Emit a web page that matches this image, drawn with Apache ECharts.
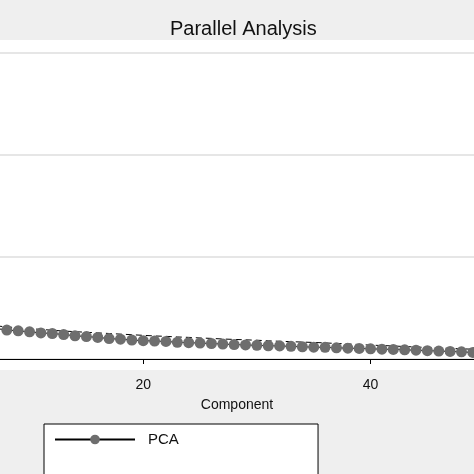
<!DOCTYPE html>
<html>
<head>
<meta charset="utf-8">
<script src="https://cdn.jsdelivr.net/npm/echarts@6/dist/echarts.min.js"></script>
<style>html,body{margin:0;padding:0;background:#efefef}#main{width:474px;height:474px}</style>
</head>
<body>
<div id="main"></div>
<script>
// components 1..50
const components = Array.from({length: 50}, (_, i) => i + 1);
const pcaValues = [8.2, 3.1, 2.4, 2.0, 1.8, 1.6, 1.5, 1.42, 1.38, 1.33,
    1.28, 1.25, 1.2, 1.14, 1.1, 1.06, 1.0, 0.97, 0.93, 0.9,
    0.88, 0.86, 0.82, 0.8, 0.78, 0.76, 0.73, 0.71, 0.69, 0.67,
    0.65, 0.64, 0.62, 0.6, 0.58, 0.57, 0.55, 0.53, 0.52, 0.5,
    0.48, 0.47, 0.45, 0.43, 0.41, 0.39, 0.37, 0.35, 0.32, 0.28];
const paValues = [2.2, 2.05, 1.95, 1.85, 1.78, 1.7, 1.63, 1.57, 1.53, 1.49,
    1.45, 1.41, 1.37, 1.34, 1.31, 1.28, 1.25, 1.22, 1.19, 1.16,
    1.13, 1.11, 1.08, 1.06, 1.03, 1.01, 0.98, 0.96, 0.94, 0.92,
    0.89, 0.87, 0.85, 0.83, 0.81, 0.79, 0.76, 0.74, 0.71, 0.68,
    0.66, 0.64, 0.61, 0.59, 0.56, 0.54, 0.52, 0.5, 0.48, 0.45];
const xTicks = [20, 40];

const chart = echarts.init(document.getElementById("main"));
const font = "Liberation Sans";
chart.setOption({
    backgroundColor: "#efefef",
    animation: false,
    title: {
        text: "Parallel Analysis",
        left: 165, top: 14,
        textStyle: {fontFamily: font, fontWeight: "normal", fontSize: 20, color: "#111"}
    },
    graphic: [{type: "rect", z: -10, shape: {x: 0, y: 40, width: 474, height: 330}, style: {fill: "#fff"}}],
    grid: {left: 0, right: 0, top: 53, bottom: 115},
    legend: {
        left: 44, top: 424,
        backgroundColor: "#fff", borderColor: "#000", borderWidth: 1,
        padding: [8, 60, 8, 10], itemGap: 36, itemWidth: 80, itemHeight: 12,
        textStyle: {fontFamily: font, fontSize: 15, color: "#111", padding: [0, 0, 0, 8]},
        data: ["PCA", "Parallel Analysis"]
    },
    xAxis: {
        type: "value", min: 7.4, max: 49.1, offset: 11,
        axisLine: {lineStyle: {color: "#000"}},
        axisTick: {length: 5, customValues: xTicks, lineStyle: {color: "#000"}},
        axisLabel: {fontFamily: font, fontSize: 14, color: "#111", customValues: xTicks},
        splitLine: {show: false},
        name: "Component", nameLocation: "middle", nameGap: 28,
        nameTextStyle: {fontFamily: font, fontSize: 14, color: "#111"}
    },
    yAxis: {
        type: "value", min: 0, max: 15, interval: 5,
        axisLine: {show: false}, axisTick: {show: false}, axisLabel: {show: false},
        splitLine: {lineStyle: {color: "#e6e6e6", width: 2}}
    },
    series: [
        {
            name: "PCA", type: "line", clip: true,
            data: components.map((c, i) => [c, pcaValues[i]]),
            symbol: "circle", symbolSize: 11,
            itemStyle: {color: "#6e6e6e"},
            lineStyle: {color: "#000", width: 1},
            z: 3
        },
        {
            name: "Parallel Analysis", type: "line", clip: true,
            data: components.map((c, i) => [c, paValues[i]]),
            symbol: "none",
            itemStyle: {color: "#000"},
            lineStyle: {color: "#000", width: 1, type: [6, 4]},
            z: 2
        }
    ]
});
</script>
</body>
</html>
